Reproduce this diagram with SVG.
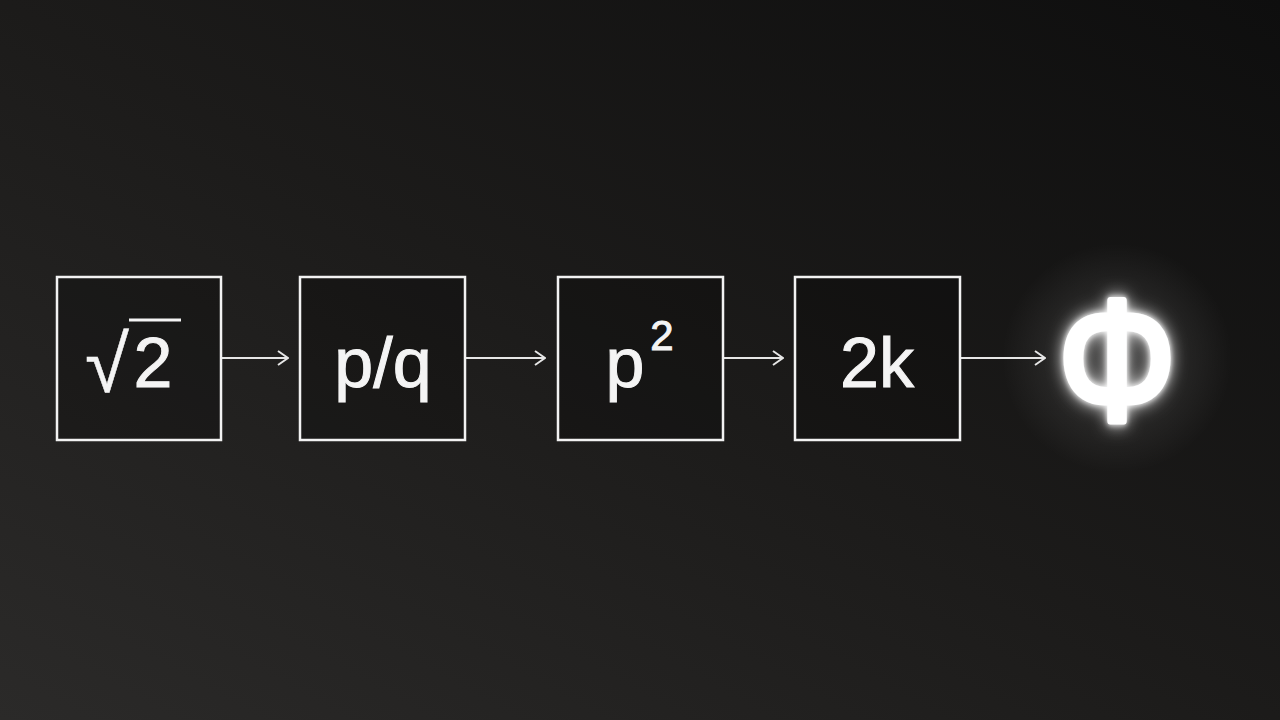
<svg xmlns="http://www.w3.org/2000/svg" width="1280" height="720" viewBox="0 0 1280 720">
<defs>
<linearGradient id="bg" x1="0" y1="1" x2="1" y2="0">
<stop offset="0" stop-color="#2b2a29"/>
<stop offset="0.5" stop-color="#1c1b1a"/>
<stop offset="1" stop-color="#0e0e0e"/>
</linearGradient>
<radialGradient id="halo" cx="0.5" cy="0.5" r="0.5">
<stop offset="0" stop-color="#ffffff" stop-opacity="0.16"/>
<stop offset="1" stop-color="#ffffff" stop-opacity="0"/>
</radialGradient>
<filter id="glow" x="-50%" y="-50%" width="200%" height="200%">
<feGaussianBlur in="SourceGraphic" stdDeviation="9" result="b1"/>
<feGaussianBlur in="SourceGraphic" stdDeviation="3" result="b2"/>
<feMerge><feMergeNode in="b1"/><feMergeNode in="b2"/><feMergeNode in="SourceGraphic"/></feMerge>
</filter>
<marker id="arr" viewBox="0 0 12 16" refX="11" refY="8" markerWidth="12" markerHeight="16" markerUnits="userSpaceOnUse" orient="auto">
<path d="M1,1 L11,8 L1,15" fill="none" stroke="#e6e6e6" stroke-width="2"/>
</marker>
</defs>
<style>
.box{fill:#000;fill-opacity:0.22;stroke:#f2f2f2;stroke-width:2.5}
.lbl{font-family:"Liberation Sans",Arial,sans-serif;fill:#f4f4f4;stroke:#f4f4f4;stroke-width:1;font-size:70px;text-anchor:middle}
.con{stroke:#e6e6e6;stroke-width:2;fill:none}
</style>
<rect width="1280" height="720" fill="url(#bg)"/>
<ellipse cx="1117" cy="358" rx="115" ry="115" fill="url(#halo)"/>
<g id="connectors">
<line class="con" x1="222" y1="358" x2="288" y2="358" marker-end="url(#arr)"/>
<line class="con" x1="466" y1="358" x2="545" y2="358" marker-end="url(#arr)"/>
<line class="con" x1="724" y1="358" x2="783" y2="358" marker-end="url(#arr)"/>
<line class="con" x1="961" y1="358" x2="1045" y2="358" marker-end="url(#arr)"/>
</g>
<g id="node-sqrt2">
<rect class="box" x="57" y="277" width="164" height="163"/>
<text class="lbl" x="107" y="392" style="font-size:80px;stroke-width:0.5">√</text>
<line x1="129" y1="320" x2="181" y2="320" stroke="#f4f4f4" stroke-width="3"/>
<text class="lbl" x="153" y="387">2</text>
</g>
<g id="node-pq">
<rect class="box" x="300" y="277" width="165" height="163"/>
<text class="lbl" x="383" y="387">p/q</text>
</g>
<g id="node-p2">
<rect class="box" x="558" y="277" width="165" height="163"/>
<text class="lbl" x="625" y="387">p</text>
<text class="lbl" x="662" y="350" style="font-size:42px">2</text>
</g>
<g id="node-2k">
<rect class="box" x="795" y="277" width="165" height="163"/>
<text class="lbl" x="877" y="387">2k</text>
</g>
<g id="node-phi">
<text class="lbl" transform="translate(1117,0) scale(0.86,1)" x="0" y="420" style="font-size:172px;fill:#ffffff;stroke:#ffffff;stroke-width:7;stroke-linejoin:round" filter="url(#glow)">Φ</text>
</g>
</svg>
